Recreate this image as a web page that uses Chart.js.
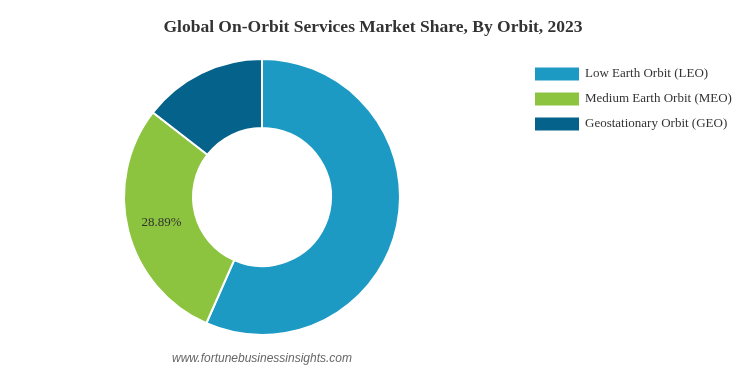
<!DOCTYPE html>
<html>
<head>
<meta charset="utf-8">
<script src="https://cdn.jsdelivr.net/npm/chart.js@4/dist/chart.umd.min.js"></script>
<style>
html,body{margin:0;padding:0;background:#fff;}
#wrap{width:745px;height:372px;position:relative;}
</style>
</head>
<body>
<div id="wrap"><canvas id="c" width="745" height="372"></canvas></div>
<script>
const categories = ["Low Earth Orbit (LEO)", "Medium Earth Orbit (MEO)", "Geostationary Orbit (GEO)"];
const shares = [56.61, 28.89, 14.50];
const colors = ["#1c9ac4", "#8cc43f", "#05628a"];
const labelShown = [false, true, false];
const titleText = "Global On-Orbit Services Market Share, By Orbit, 2023";
const sourceText = "www.fortunebusinessinsights.com";

const overlay = {
  id: 'overlay',
  afterDraw(chart) {
    const ctx = chart.ctx;
    ctx.save();
    // title
    ctx.fillStyle = '#333';
    ctx.font = 'bold 17.5px "Liberation Serif"';
    ctx.textAlign = 'center';
    ctx.textBaseline = 'middle';
    ctx.fillText(titleText, 373, 27);
    // slice labels
    const meta = chart.getDatasetMeta(0);
    ctx.font = '13px "Liberation Serif"';
    ctx.fillStyle = '#333';
    meta.data.forEach((arc, i) => {
      if (!labelShown[i]) return;
      const p = arc.tooltipPosition();
      ctx.fillText(shares[i].toFixed(2) + '%', p.x, p.y);
    });
    // legend
    ctx.textAlign = 'left';
    ctx.font = '13px "Liberation Serif"';
    categories.forEach((c, i) => {
      const y = 74 + i * 25;
      ctx.fillStyle = colors[i];
      ctx.fillRect(535, y - 6.5, 44, 13);
      ctx.fillStyle = '#333';
      ctx.fillText(c, 585, y);
    });
    // source
    ctx.textAlign = 'center';
    ctx.font = 'italic 12px "Liberation Sans"';
    ctx.fillStyle = '#666';
    ctx.fillText(sourceText, 262, 359);
    ctx.restore();
  }
};

new Chart(document.getElementById('c'), {
  type: 'doughnut',
  data: {
    labels: categories,
    datasets: [{
      data: shares,
      backgroundColor: colors,
      borderColor: '#fff',
      borderWidth: 2,
      hoverOffset: 0
    }]
  },
  options: {
    responsive: false,
    animation: false,
    cutout: '50%',
    layout: { padding: { top: 58, bottom: 36, left: 123, right: 344 } },
    plugins: { legend: { display: false }, tooltip: { enabled: false }, title: { display: false } }
  },
  plugins: [overlay]
});
</script>
</body>
</html>
